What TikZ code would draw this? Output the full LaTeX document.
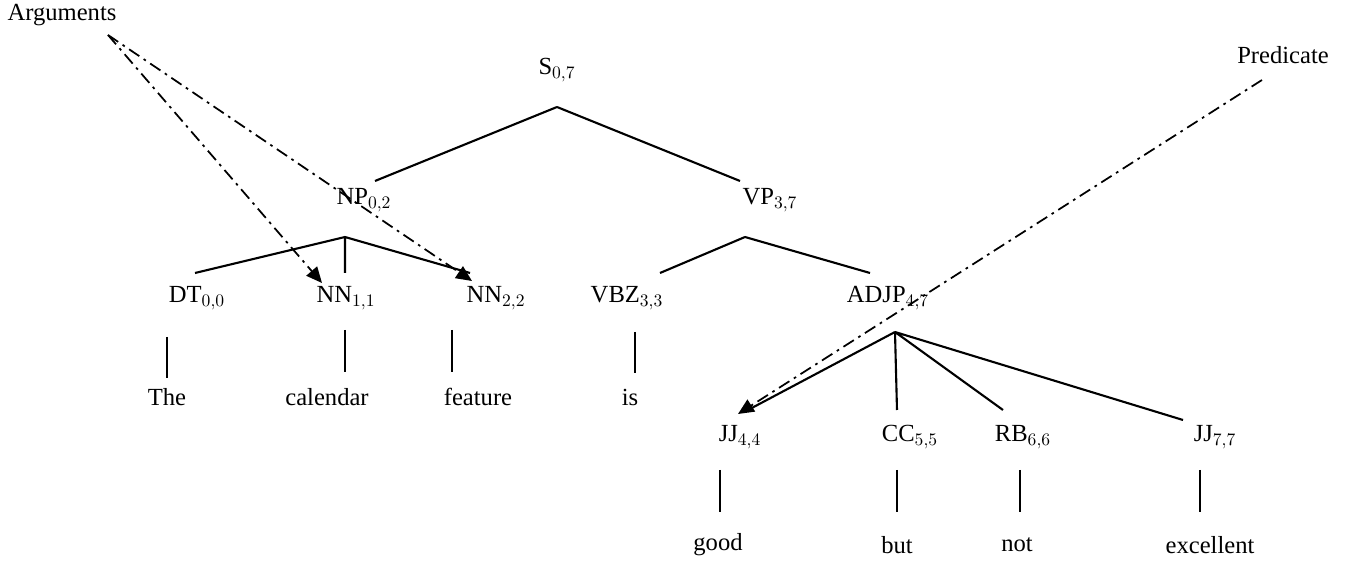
\documentclass[tikz,border=0pt]{standalone}
\usepackage{fontspec}
\setmainfont{Liberation Serif}
\usetikzlibrary{arrows.meta}
\begin{document}
\begin{tikzpicture}[x=0.02cm,y=-0.02cm,
  lab/.style={font=\fontsize{14}{16}\selectfont,inner sep=0pt},
  br/.style={line width=1.2pt},
  arg/.style={line width=1pt,dash pattern=on 7pt off 3pt on 1.5pt off 3pt,-{Triangle[length=9pt,width=8pt]}}]
\useasboundingbox (0,0) rectangle (1347,563);
\node[lab] (args) at (62,15) {Arguments};
\node[lab] (pred) at (1283,55) {Predicate};
\node[lab] (S) at (557,70) {S$_{0,7}$};
\node[lab] (NP) at (364,200) {NP$_{0,2}$};
\node[lab] (VP) at (770,200) {VP$_{3,7}$};
\node[lab] (DT) at (197,298) {DT$_{0,0}$};
\node[lab] (NN1) at (346,298) {NN$_{1,1}$};
\node[lab] (NN2) at (496,298) {NN$_{2,2}$};
\node[lab] (VBZ) at (627,298) {VBZ$_{3,3}$};
\node[lab] (ADJP) at (888,298) {ADJP$_{4,7}$};
\node[lab] (w1) at (167,397) {The};
\node[lab] (w2) at (327,397) {calendar};
\node[lab] (w3) at (478,397) {feature};
\node[lab] (w4) at (630,397) {is};
\node[lab] (JJ4) at (740,437) {JJ$_{4,4}$};
\node[lab] (CC) at (910,437) {CC$_{5,5}$};
\node[lab] (RB) at (1023,437) {RB$_{6,6}$};
\node[lab] (JJ7) at (1215,437) {JJ$_{7,7}$};
\node[lab] (w5) at (718,545) {good};
\node[lab] (w6) at (897,545) {but};
\node[lab] (w7) at (1017,545) {not};
\node[lab] (w8) at (1210,545) {excellent};
% tree points
\coordinate (s) at (557,107);
\coordinate (np) at (345,237);
\coordinate (vp) at (745,237);
\coordinate (adjp) at (895,332);
\draw[br] (s) -- (375,181) (s) -- (740,181);
\draw[br] (np) -- (195,273) (np) -- (345,273) (np) -- (470,273);
\draw[br] (vp) -- (660,273) (vp) -- (870,273);
\draw[br] (adjp) -- (748,410) (adjp) -- (897,410) (adjp) -- (1003,410) (adjp) -- (1183,420);
\draw[br] (167,337) -- (167,378) (345,330) -- (345,372) (452,330) -- (452,372) (635,332) -- (635,373);
\draw[br] (720,470) -- (720,512) (897,470) -- (897,512) (1020,470) -- (1020,512) (1200,470) -- (1200,512);
\coordinate (a0) at (108,35);
\draw[arg] (a0) -- (322,283);
\draw[arg] (a0) -- (472,281);
\draw[arg] (1262,80) -- (738,414);
\end{tikzpicture}
\end{document}
